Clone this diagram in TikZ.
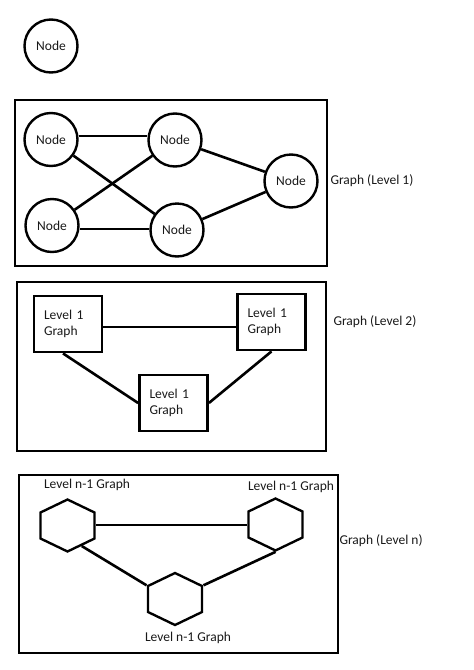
\documentclass[tikz,border=0pt]{standalone}
\usepackage{fontspec}
\setmainfont{Carlito}
\usetikzlibrary{shapes.geometric}
\begin{document}
\begin{tikzpicture}[x=1pt,y=-1pt,
  every node/.style={font=\fontsize{13.5}{16}\selectfont, text=black!90},
  gnode/.style={draw, circle, line width=2.4pt, minimum size=53pt, inner sep=0pt},
  frame/.style={draw, line width=2.8pt},
  edge/.style={line width=2.6pt},
  sq/.style={draw, line width=2.8pt, text width=48pt, inner xsep=10pt, minimum height=56pt, align=left},
  hex/.style={draw, regular polygon, regular polygon sides=6, shape border rotate=30,
              minimum size=52pt, inner sep=0pt, xscale=1.2, transform shape, line width=2.6pt/1.1},
  lbl/.style={anchor=west}
]
\useasboundingbox (0,0) rectangle (474,670);

% single node
\node[gnode] (single) at (51,46) {Node};

% Level 1
\draw[frame] (15,100) rectangle (327,266);
\node[gnode] (a) at (51,139.5) {Node};
\node[gnode] (b) at (175,140) {Node};
\node[gnode] (c) at (291,181) {Node};
\node[gnode] (d) at (52,225.5) {Node};
\node[gnode] (e) at (177,230) {Node};
\draw[edge] (a.east |- 0,136) -- (b.west |- 0,136);
\draw[edge] (a) -- (e);
\draw[edge] (d) -- (b);
\draw[edge] (d.east |- 0,229) -- (e.west |- 0,229);
\draw[edge] (b) -- (c);
\draw[edge] (e) -- (c);
\node[lbl] (l1) at (327,181) {Graph (Level 1)};

% Level 2
\draw[frame] (17,282) rectangle (326,451);
\node[sq] (s1) at (68,324) {Level 1\\Graph};
\node[sq] (s2) at (271.5,322) {Level 1\\Graph};
\node[sq] (s3) at (173.5,403) {Level 1\\Graph};
\draw[edge] (s1.east |- 0,327) -- (s2.west |- 0,327);
\draw[edge] ([xshift=-5pt]s1.south) -- (s3.west);
\draw[edge] (s2.south) -- (s3.east);
\node[lbl] (l2) at (330,322) {Graph (Level 2)};

% Level n
\draw[frame] (19,475) rectangle (338,653);
\node[hex] (h1) at (67.5,525.5) {};
\node[hex] (h2) at (275.5,524.5) {};
\node[hex] (h3) at (175,599) {};
\draw[edge] (h1.east |- 0,525) -- (h2.west |- 0,525);
\draw[edge] (h1.-60) -- (h3.150);
\draw[edge] (h2.south) -- (h3.30);
\node (t1) at (87,485) {Level n-1 Graph};
\node (t2) at (291,487) {Level n-1 Graph};
\node (t3) at (188,638) {Level n-1 Graph};
\node[lbl] (l3) at (336,541) {Graph (Level n)};
\end{tikzpicture}
\end{document}
